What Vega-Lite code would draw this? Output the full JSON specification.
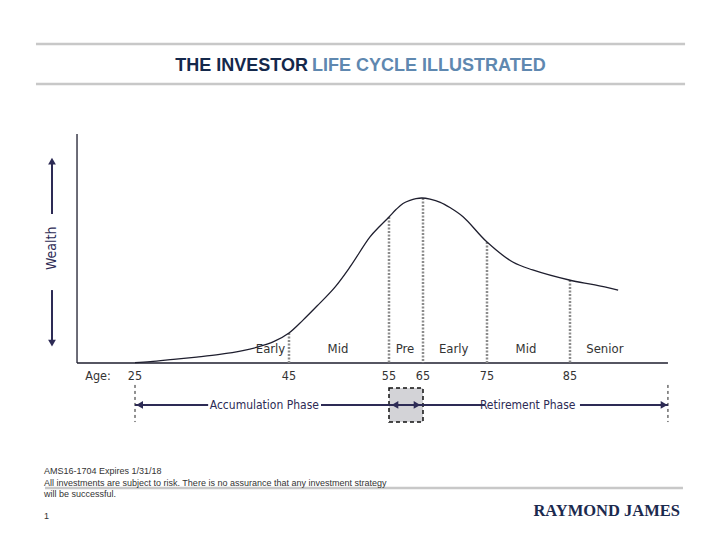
{
  "$schema": "https://vega.github.io/schema/vega-lite/v6.json",
  "width": 720,
  "height": 540,
  "padding": 0,
  "autosize": {"type": "none"},
  "background": "white",
  "config": {"view": {"stroke": null}},
  "datasets": {
    "pagelines": [
      {"age": 12.14, "age2": 98.86, "wealth": 193.3},
      {"age": 12.14, "age2": 98.86, "wealth": 169.1},
      {"age": 13.31, "age2": 98.61, "wealth": -75.8}
    ],
    "axis_h": [{"age": 17.47, "age2": 96.8, "wealth": 0}],
    "axis_v": [{"age": 17.47, "wealth": 0, "wealth2": 138.8}],
    "stages": [
      {"age": 45, "wealth": 18.2},
      {"age": 55, "wealth": 88.5},
      {"age": 65, "wealth": 100},
      {"age": 75, "wealth": 73.3},
      {"age": 85, "wealth": 50.3}
    ],
    "curve": [
      {"age": 25, "wealth": 0.2},
      {"age": 27, "wealth": 0.8},
      {"age": 30, "wealth": 2.2},
      {"age": 33, "wealth": 3.6},
      {"age": 36, "wealth": 5.2},
      {"age": 39, "wealth": 7.5},
      {"age": 41, "wealth": 9.7},
      {"age": 43, "wealth": 12.9},
      {"age": 45, "wealth": 18.2},
      {"age": 46.4, "wealth": 26},
      {"age": 47.8, "wealth": 34.5},
      {"age": 49.6, "wealth": 46},
      {"age": 51.1, "wealth": 58.2},
      {"age": 53.1, "wealth": 76.4},
      {"age": 54.1, "wealth": 83.0},
      {"age": 55, "wealth": 88.5},
      {"age": 57.06, "wealth": 93.0},
      {"age": 59.12, "wealth": 96.7},
      {"age": 61.18, "wealth": 98.6},
      {"age": 62.94, "wealth": 99.6},
      {"age": 64.7, "wealth": 100},
      {"age": 66.1, "wealth": 99.3},
      {"age": 67.7, "wealth": 97.4},
      {"age": 69.2, "wealth": 94.2},
      {"age": 71.3, "wealth": 88.5},
      {"age": 75, "wealth": 73.3},
      {"age": 78.1, "wealth": 61.2},
      {"age": 80.5, "wealth": 56.4},
      {"age": 84.9, "wealth": 50.3},
      {"age": 88.0, "wealth": 47.3},
      {"age": 90.8, "wealth": 44.2}
    ],
    "box": [{"age": 55, "age2": 65, "wealth": -15.2, "wealth2": -35.8}],
    "phase_ends": [
      {"age": 25, "wealth": -13.3, "wealth2": -35.8},
      {"age": 96.8, "wealth": -13.3, "wealth2": -35.8}
    ],
    "phase_lines": [
      {"age": 25, "age2": 34.5, "wealth": -25.45},
      {"age": 48.2, "age2": 74.7, "wealth": -25.45},
      {"age": 86.2, "age2": 96.8, "wealth": -25.45}
    ],
    "wealth_lines": [
      {"age": 14.22, "wealth": 90.3, "wealth2": 122},
      {"age": 14.22, "wealth": 12.5, "wealth2": 44.2}
    ],
    "arrowheads": [
      {"age": 25.6, "wealth": -25.45, "direction": "left"},
      {"age": 56.76, "wealth": -25.45, "direction": "left"},
      {"age": 63.24, "wealth": -25.45, "direction": "right"},
      {"age": 96.33, "wealth": -25.45, "direction": "right"},
      {"age": 14.22, "wealth": 122.4, "direction": "up"},
      {"age": 14.22, "wealth": 12.1, "direction": "down"}
    ],
    "ticks": [
      {"age": 20.2, "wealth": -7.9, "label": "Age:"},
      {"age": 25, "wealth": -7.9, "label": "25"},
      {"age": 45, "wealth": -7.9, "label": "45"},
      {"age": 55, "wealth": -7.9, "label": "55"},
      {"age": 65, "wealth": -7.9, "label": "65"},
      {"age": 75, "wealth": -7.9, "label": "75"},
      {"age": 85, "wealth": -7.9, "label": "85"}
    ],
    "stage_labels": [
      {"age": 42.6, "wealth": 8.5, "label": "Early"},
      {"age": 49.9, "wealth": 8.5, "label": "Mid"},
      {"age": 59.7, "wealth": 8.5, "label": "Pre"},
      {"age": 69.8, "wealth": 8.5, "label": "Early"},
      {"age": 79.7, "wealth": 8.5, "label": "Mid"},
      {"age": 89.2, "wealth": 8.5, "label": "Senior"}
    ],
    "phase_names": [
      {"age": 41.8, "wealth": -25.45, "label": "Accumulation Phase"},
      {"age": 79.9, "wealth": -25.45, "label": "Retirement Phase"}
    ],
    "wealth_label": [{"age": 14.22, "wealth": 69.5, "label": "Wealth"}],
    "title_a": [{"age": 46.9, "wealth": 180.3, "label": "THE INVESTOR"}],
    "title_b": [{"age": 47.3, "wealth": 180.3, "label": "LIFE CYCLE ILLUSTRATED"}],
    "footer": [
      {"age": 13.18, "wealth": -65.5, "label": "AMS16-1704 Expires 1/31/18"},
      {"age": 13.18, "wealth": -72.7, "label": "All investments are subject to risk.  There is no assurance that any investment strategy"},
      {"age": 13.18, "wealth": -79.4, "label": "will be successful."},
      {"age": 13.18, "wealth": -92.7, "label": "1"}
    ],
    "logo": [{"age": 98.25, "wealth": -89.7, "label": "RAYMOND JAMES"}]
  },
  "encoding": {
    "x": {
      "field": "age",
      "type": "quantitative",
      "axis": null,
      "scale": {
        "domain": [7.468, 25, 45, 55, 65, 75, 85, 103.07],
        "range": [0, 135, 289, 389, 423, 487, 570, 720],
        "zero": false,
        "nice": false
      }
    },
    "y": {
      "field": "wealth",
      "type": "quantitative",
      "axis": null,
      "scale": {"domain": [-107.273, 220], "zero": false, "nice": false}
    }
  },
  "layer": [
    {
      "data": {"name": "pagelines"},
      "mark": {"type": "rule", "color": "#c8c8c8", "strokeWidth": 2.5},
      "encoding": {"x2": {"field": "age2"}}
    },
    {
      "data": {"name": "axis_h"},
      "mark": {"type": "rule", "color": "#1e1e2e", "strokeWidth": 1.3},
      "encoding": {"x2": {"field": "age2"}}
    },
    {
      "data": {"name": "axis_v"},
      "mark": {"type": "rule", "color": "#1e1e2e", "strokeWidth": 1.3},
      "encoding": {"y2": {"field": "wealth2"}}
    },
    {
      "data": {"name": "stages"},
      "mark": {"type": "rule", "color": "#8c8c8c", "strokeWidth": 2.5, "strokeDash": [2, 1.5]},
      "encoding": {"y2": {"datum": 0}}
    },
    {
      "data": {"name": "curve"},
      "mark": {"type": "line", "color": "#1e1e2e", "strokeWidth": 1.3, "interpolate": "catmull-rom"},
      "encoding": {}
    },
    {
      "data": {"name": "box"},
      "mark": {"type": "rect", "fill": "#d3d3d7", "stroke": "#111111", "strokeWidth": 1.5, "strokeDash": [4, 3]},
      "encoding": {"x2": {"field": "age2"}, "y2": {"field": "wealth2"}}
    },
    {
      "data": {"name": "phase_ends"},
      "mark": {"type": "rule", "color": "#222222", "strokeWidth": 1, "strokeDash": [3, 3]},
      "encoding": {"y2": {"field": "wealth2"}}
    },
    {
      "data": {"name": "phase_lines"},
      "mark": {"type": "rule", "color": "#2d2b55", "strokeWidth": 2},
      "encoding": {"x2": {"field": "age2"}}
    },
    {
      "data": {"name": "wealth_lines"},
      "mark": {"type": "rule", "color": "#2d2b55", "strokeWidth": 2},
      "encoding": {"y2": {"field": "wealth2"}}
    },
    {
      "data": {"name": "arrowheads"},
      "mark": {"type": "point", "filled": true, "color": "#2d2b55", "size": 60, "opacity": 1},
      "encoding": {
        "shape": {
          "field": "direction",
          "type": "nominal",
          "scale": {"domain": ["left", "right", "up", "down"], "range": ["triangle-left", "triangle-right", "triangle-up", "triangle-down"]},
          "legend": null
        }
      }
    },
    {
      "data": {"name": "ticks"},
      "mark": {"type": "text", "font": "DejaVu Sans Condensed, Roboto, sans-serif", "fontSize": 12.5, "color": "#333333", "baseline": "middle", "align": "center"},
      "encoding": {"text": {"field": "label"}}
    },
    {
      "data": {"name": "stage_labels"},
      "mark": {"type": "text", "font": "DejaVu Sans Condensed, Roboto, sans-serif", "fontSize": 13, "color": "#333333", "baseline": "middle", "align": "center"},
      "encoding": {"text": {"field": "label"}}
    },
    {
      "data": {"name": "phase_names"},
      "mark": {"type": "text", "font": "DejaVu Sans Condensed, Roboto, sans-serif", "fontSize": 12, "color": "#2d2b55", "baseline": "middle", "align": "center"},
      "encoding": {"text": {"field": "label"}}
    },
    {
      "data": {"name": "wealth_label"},
      "mark": {"type": "text", "font": "DejaVu Sans Condensed, Roboto, sans-serif", "fontSize": 14, "color": "#2d2b55", "baseline": "middle", "align": "center", "angle": 270},
      "encoding": {"text": {"field": "label"}}
    },
    {
      "data": {"name": "title_a"},
      "mark": {"type": "text", "font": "Liberation Sans, Arial, sans-serif", "fontSize": 18, "fontWeight": "bold", "color": "#14284b", "baseline": "middle", "align": "right"},
      "encoding": {"text": {"field": "label"}}
    },
    {
      "data": {"name": "title_b"},
      "mark": {"type": "text", "font": "Liberation Sans, Arial, sans-serif", "fontSize": 18, "fontWeight": "bold", "color": "#5f88b0", "baseline": "middle", "align": "left"},
      "encoding": {"text": {"field": "label"}}
    },
    {
      "data": {"name": "footer"},
      "mark": {"type": "text", "font": "Liberation Sans, Arial, sans-serif", "fontSize": 9, "color": "#333333", "baseline": "middle", "align": "left"},
      "encoding": {"text": {"field": "label"}}
    },
    {
      "data": {"name": "logo"},
      "mark": {"type": "text", "font": "Liberation Serif, Times New Roman, serif", "fontSize": 16.5, "fontWeight": "bold", "color": "#1c2a4e", "baseline": "middle", "align": "right"},
      "encoding": {"text": {"field": "label"}}
    }
  ]
}
